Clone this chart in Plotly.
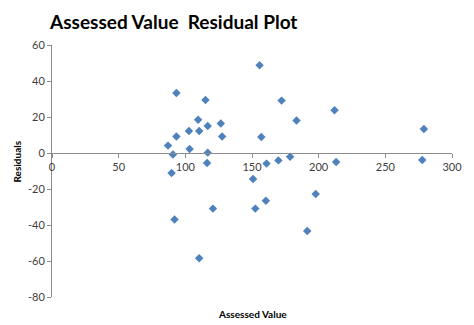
import plotly.graph_objects as go

# Assessed value (x) and regression residuals (y)
assessed_value = [
    93.3, 115.1, 109.6, 116.8, 126.6, 102.7, 110.4, 93.3, 127.6, 87.0,
    103.2, 90.7, 116.8, 116.3, 89.7, 150.8, 120.7, 152.5, 91.9, 110.4,
    155.7, 172.2, 211.9, 183.4, 278.9, 157.0, 178.6, 169.8, 160.9, 213.1,
    277.7, 160.4, 197.8, 191.4,
]
residuals = [
    33.3, 29.4, 18.5, 15.0, 16.4, 12.2, 12.2, 9.2, 9.2, 4.1,
    2.2, -0.8, 0.2, -5.6, -11.1, -14.4, -30.9, -30.9, -37.0, -58.5,
    48.7, 29.1, 23.7, 18.0, 13.3, 8.9, -2.1, -4.1, -5.9, -5.0,
    -3.9, -26.5, -22.8, -43.3,
]

x_ticks = [0, 50, 100, 150, 200, 250, 300]
y_ticks = [60, 40, 20, 0, -20, -40, -60, -80]
y_min, y_max = -80, 60

font_family = "Lato, 'Open Sans', sans-serif"
axis_grey = "#8c8c8c"

fig = go.Figure(
    go.Scatter(
        x=assessed_value,
        y=residuals,
        mode="markers",
        marker=dict(symbol="diamond", size=6.5, color="#4f81bd"),
        hoverinfo="x+y",
    )
)

fig.update_layout(
    width=474,
    height=325,
    margin=dict(l=52, r=16, t=45, b=28),
    paper_bgcolor="white",
    plot_bgcolor="white",
    showlegend=False,
    font=dict(family=font_family, size=11, color="#404040"),
    title=dict(
        text="<b>Assessed Value  Residual Plot</b>",
        x=50 / 474,
        xanchor="left",
        y=1 - 22 / 325,
        yanchor="middle",
        font=dict(family=font_family, size=19, color="black"),
    ),
    annotations=[
        dict(
            text="<b>Assessed Value</b>",
            xref="paper", yref="paper",
            x=0.5, y=-17 / 252,
            xanchor="center", yanchor="middle",
            showarrow=False,
            font=dict(family=font_family, size=10, color="black"),
        ),
        dict(
            text="<b>Residuals</b>",
            xref="paper", yref="paper",
            x=-36 / 406, y=0.5 + 9 / 252,
            xanchor="center", yanchor="middle",
            textangle=-90,
            showarrow=False,
            font=dict(family=font_family, size=10, color="black"),
        ),
    ],
)

# x axis drawn along the zero residual line
fig.update_xaxes(
    range=[0, 300],
    tickvals=x_ticks,
    ticktext=[str(v) for v in x_ticks],
    anchor="free",
    position=(0 - y_min) / (y_max - y_min),
    showline=True,
    linecolor=axis_grey,
    linewidth=1,
    ticks="outside",
    ticklen=4,
    tickcolor=axis_grey,
    showgrid=False,
    zeroline=False,
    tickfont=dict(size=11, color="#404040"),
)

fig.update_yaxes(
    range=[y_min, y_max],
    tickvals=y_ticks,
    ticktext=[str(v) for v in y_ticks],
    showline=True,
    linecolor=axis_grey,
    linewidth=1,
    ticks="outside",
    ticklen=4,
    tickcolor=axis_grey,
    showgrid=False,
    zeroline=False,
    tickfont=dict(size=11, color="#404040"),
)

fig.write_html("out.html")
